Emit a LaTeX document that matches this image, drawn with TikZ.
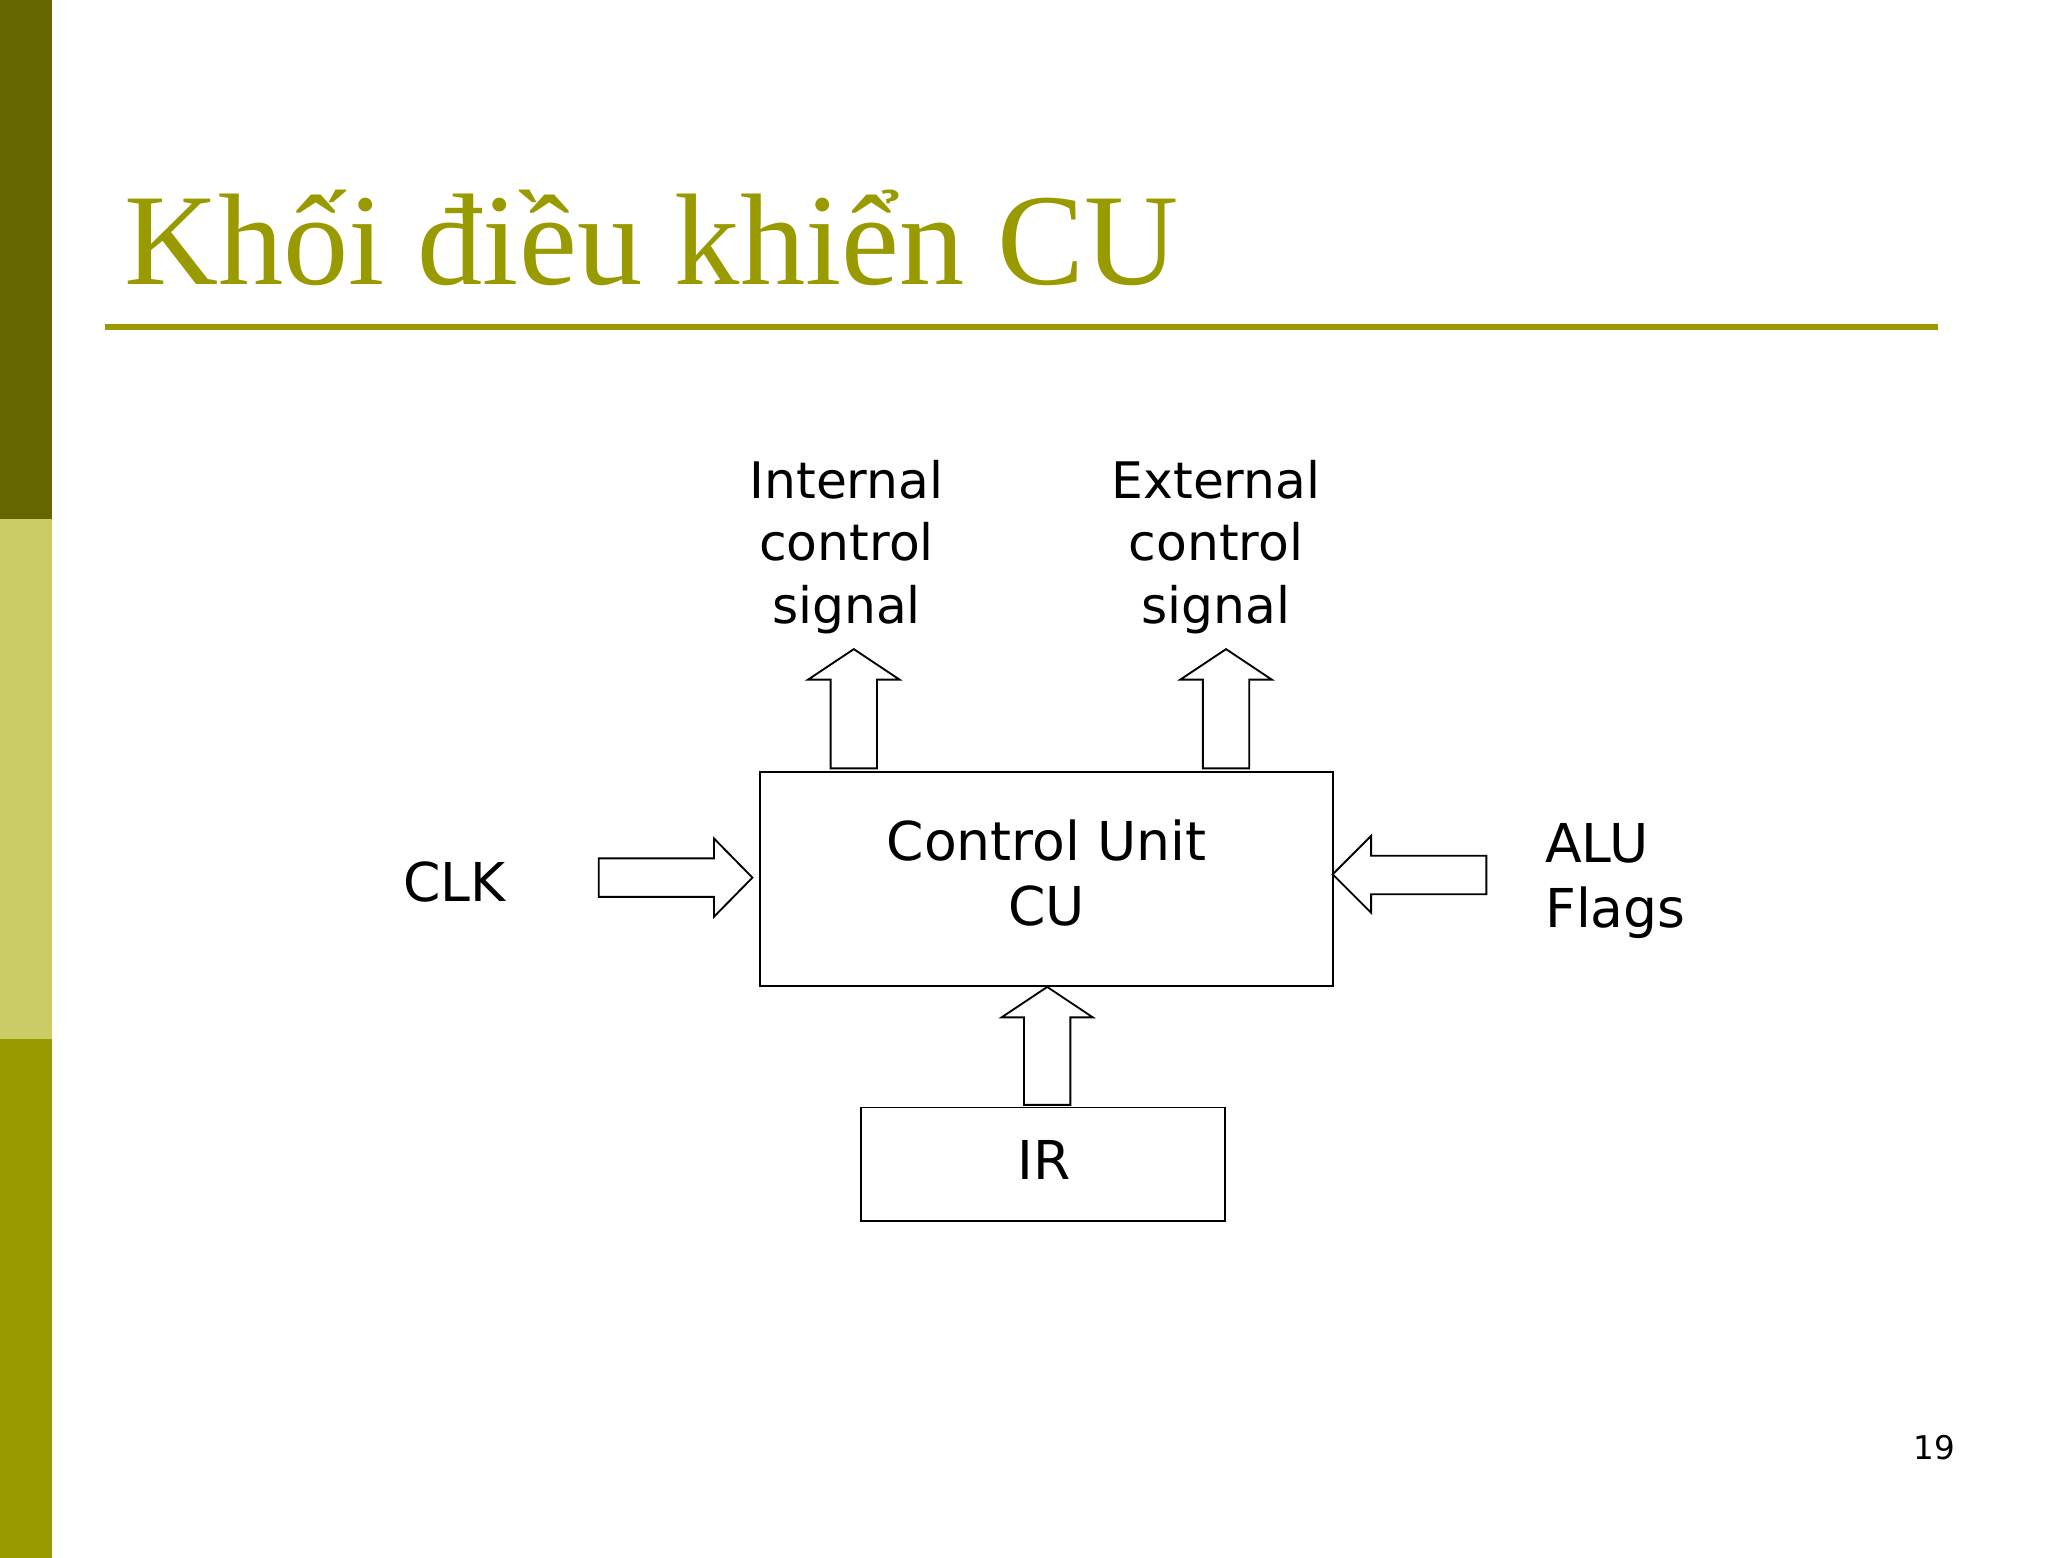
\documentclass[tikz,border=0pt]{standalone}
\usepackage{fontspec}
\setmainfont{DejaVu Sans}
\newfontfamily\titlefont{Liberation Serif}
\usetikzlibrary{positioning}
\definecolor{olivedark}{HTML}{666600}
\definecolor{olivelight}{HTML}{CCCC66}
\definecolor{olivemid}{HTML}{999900}
\newcommand{\uparrowblock}[3]{% centre x, bottom y, top y (y grows downward)
  \draw[fill=white] (#1-17.5,#2) -- (#1-17.5,#3+23) -- (#1-34.5,#3+23) -- (#1,#3)
    -- (#1+34.5,#3+23) -- (#1+17.5,#3+23) -- (#1+17.5,#2) -- cycle;}
\begin{document}
\begin{tikzpicture}[x=0.01cm,y=-0.01cm,
    lbl/.style={font=\fontsize{11.5}{14}\selectfont, align=center}]
  \useasboundingbox (0,0) rectangle (1546,1176);
  % side bar
  \fill[olivedark] (0,0) rectangle (39,392);
  \fill[olivelight] (0,392) rectangle (39,784);
  \fill[olivemid] (0,784) rectangle (39,1176);
  % title
  \node[anchor=base west, text=olivemid, inner sep=0, font=\titlefont\fontsize{28}{30}\selectfont] (title) at (93,215) {Khối điều khiển CU};
  \draw[olivemid, line width=1.2pt] (79,247) -- (1463,247);
  % boxes
  \draw (574,583) rectangle (1006,744);
  \node[lbl] (cu) at (790,659) {Control Unit\\CU};
  \draw (650,836) rectangle (925,922);
  \node[lbl] (ir) at (788,876) {IR};
  % labels
  \node[lbl, font=\fontsize{10.8}{13.5}\selectfont] (int) at (639,413) {Internal\\control\\signal};
  \node[lbl, font=\fontsize{10.8}{13.5}\selectfont] (ext) at (918,413) {External\\control\\signal};
  \node[lbl] (clk) at (343,666) {CLK};
  \node[lbl, align=left, anchor=west] (alu) at (1154,665) {ALU\\Flags};
  \node[font=\fontsize{7}{8}\selectfont] (page) at (1460,1093) {19};
  % block arrows
  \uparrowblock{644.5}{580}{490}
  \uparrowblock{925.5}{580}{490}
  \uparrowblock{790.5}{834}{745}
  \draw[fill=white] (452,648) -- (539,648) -- (539,633) -- (568,662.5) -- (539,692)
    -- (539,677) -- (452,677) -- cycle;
  \draw[fill=white] (1122,646) -- (1035,646) -- (1035,631) -- (1006,660) -- (1035,689)
    -- (1035,675) -- (1122,675) -- cycle;
\end{tikzpicture}
\end{document}
